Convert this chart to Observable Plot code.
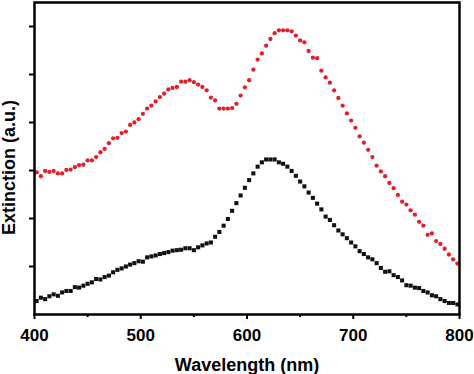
<!DOCTYPE html>
<html><head><meta charset="utf-8">
<script src="https://cdn.jsdelivr.net/npm/d3@7"></script>
<script src="https://cdn.jsdelivr.net/npm/@observablehq/plot@0.6"></script>
<style>html,body{margin:0;padding:0;background:#fff;} svg{display:block;}</style>
</head><body><div id="chart"></div>
<script>
// Sampling grid (nm), one point every 4 nm
const wavelengths = d3.range(402, 800, 4);

// Upper (red circles) spectrum, arbitrary units
const redValues = [
  2.96, 2.88, 2.99, 2.97, 2.99, 2.94, 2.94, 3.01, 3.02, 3.07,
  3.11, 3.12, 3.21, 3.21, 3.28, 3.38, 3.45, 3.57, 3.67, 3.68,
  3.78, 3.81, 3.95, 4.00, 4.07, 4.18, 4.29, 4.35, 4.44, 4.53,
  4.60, 4.69, 4.72, 4.74, 4.85, 4.85, 4.88, 4.84, 4.79, 4.74,
  4.67, 4.52, 4.46, 4.29, 4.29, 4.29, 4.30, 4.39, 4.56, 4.73,
  4.88, 5.10, 5.31, 5.44, 5.60, 5.74, 5.86, 5.92, 5.92, 5.92,
  5.90, 5.81, 5.71, 5.67, 5.49, 5.35, 5.34, 5.08, 4.94, 4.83,
  4.67, 4.51, 4.35, 4.19, 4.04, 3.89, 3.71, 3.58, 3.43, 3.28,
  3.10, 2.98, 2.88, 2.74, 2.63, 2.49, 2.35, 2.29, 2.17, 2.08,
  1.93, 1.85, 1.66, 1.69, 1.53, 1.47, 1.37, 1.25, 1.15, 1.06
];

// Lower (black squares) spectrum, arbitrary units
const blackValues = [
  0.28, 0.35, 0.32, 0.38, 0.42, 0.39, 0.46, 0.49, 0.49, 0.57,
  0.56, 0.60, 0.64, 0.67, 0.74, 0.73, 0.78, 0.81, 0.88, 0.93,
  0.96, 1.00, 1.04, 1.07, 1.11, 1.10, 1.19, 1.21, 1.23, 1.26,
  1.28, 1.30, 1.33, 1.34, 1.35, 1.38, 1.38, 1.34, 1.40, 1.44,
  1.48, 1.50, 1.62, 1.72, 1.85, 1.99, 2.16, 2.32, 2.48, 2.64,
  2.80, 2.94, 3.08, 3.17, 3.23, 3.23, 3.23, 3.17, 3.14, 3.08,
  2.99, 2.89, 2.77, 2.67, 2.54, 2.43, 2.31, 2.19, 2.04, 1.97,
  1.86, 1.75, 1.67, 1.59, 1.50, 1.42, 1.32, 1.26, 1.19, 1.15,
  1.07, 0.97, 0.89, 0.90, 0.82, 0.78, 0.71, 0.61, 0.60, 0.56,
  0.55, 0.49, 0.46, 0.40, 0.38, 0.32, 0.28, 0.24, 0.24, 0.21
];

const xTicks = [400, 500, 600, 700, 800];
const xMinorTicks = [450, 550, 650, 750];
const yTicks = [1, 2, 3, 4, 5, 6];
const xLabel = "Wavelength (nm)";
const yLabel = "Extinction (a.u.)";

const red = wavelengths.map((w, i) => ({w, v: redValues[i]}));
const black = wavelengths.map((w, i) => ({w, v: blackValues[i]}));

const chart = Plot.plot({
  width: 474,
  height: 374,
  marginLeft: 34,
  marginRight: 15,
  marginTop: 2,
  marginBottom: 60,
  style: {fontFamily: "'Liberation Sans', Arial, sans-serif", fontWeight: "bold", background: "#fff", overflow: "visible"},
  x: {domain: [400, 800]},
  y: {domain: [0, 6.5]},
  marks: [
    Plot.dot(black, {x: "w", y: "v", symbol: "square", r: 2.3, fill: "#111", stroke: "none"}),
    Plot.dot(red, {x: "w", y: "v", r: 2.15, fill: "#e0212b", stroke: "none"}),
    Plot.axisX({ticks: xTicks, tickSize: 5, tickPadding: 9, tickFormat: d => String(d), label: null, fontSize: 17, fontWeight: "bold", strokeWidth: 2, fill: "#000"}),
    Plot.axisX({ticks: xMinorTicks, tickSize: 3, tickFormat: () => "", label: null, strokeWidth: 2}),
    Plot.axisY({ticks: yTicks, tickSize: 5, tickFormat: () => "", label: null, strokeWidth: 2}),
    Plot.frame({stroke: "#000", strokeWidth: 2.5}),
    Plot.text([xLabel], {frameAnchor: "bottom", dy: 50.5, fontSize: 18, fontWeight: "bold", fill: "#000", lineAnchor: "middle", textAnchor: "middle"}),
    Plot.text([yLabel], {frameAnchor: "left", dx: -25, dy: 9, rotate: -90, fontSize: 18, fontWeight: "bold", fill: "#000", lineAnchor: "middle", textAnchor: "middle"})
  ]
});
document.getElementById("chart").appendChild(chart);
</script>
</body></html>
